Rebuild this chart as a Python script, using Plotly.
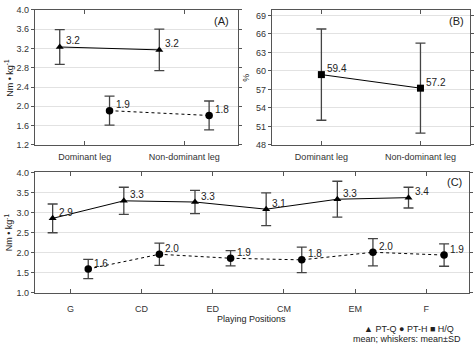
import plotly.graph_objects as go

legs = ["Dominant leg", "Non-dominant leg"]
ptq_leg = [3.23, 3.17]
ptq_leg_sd = [0.36, 0.43]
pth_leg = [1.91, 1.81]
pth_leg_sd = [0.30, 0.30]
hq_leg = [59.4, 57.2]
hq_leg_sd = [7.4, 7.3]

positions = ["G", "CD", "ED", "CM", "EM", "F"]
ptq_pos = [2.86, 3.30, 3.27, 3.09, 3.34, 3.38]
ptq_pos_sd = [0.36, 0.34, 0.29, 0.41, 0.45, 0.26]
pth_pos = [1.59, 1.96, 1.86, 1.82, 2.01, 1.94]
pth_pos_sd = [0.24, 0.28, 0.19, 0.32, 0.34, 0.28]

W, H = 474, 351
FONT = "Liberation Sans, Arial, sans-serif"
EB = dict(type="data", symmetric=True, color="#444", thickness=1.3, width=5)

def fx(px):
    return px / W

def fy(py):
    return 1 - py / H

fig = go.Figure()

def add(xs, ys, sd, sym, dash, size, xa, ya, fmt=".1f"):
    fig.add_trace(go.Scatter(
        x=xs, y=ys, mode="lines+markers",
        error_y=dict(array=sd, **EB),
        marker=dict(symbol=sym, size=size, color="black"),
        line=dict(color="black", width=1, dash=dash),
        xaxis=xa, yaxis=ya, showlegend=False, cliponaxis=False))
    for x, y in zip(xs, ys):
        fig.add_annotation(x=x, y=y, xref=xa, yref=ya, text=format(y, fmt),
                           showarrow=False, xanchor="left", yanchor="middle",
                           xshift=4, yshift=6,
                           font=dict(size=10, color="#222", family=FONT))

off = 0.25
add([i - off for i in range(len(legs))], ptq_leg, ptq_leg_sd, "triangle-up", "solid", 7, "x", "y")
add([i + off for i in range(len(legs))], pth_leg, pth_leg_sd, "circle", "dot", 7.5, "x", "y")
add(list(range(len(legs))), hq_leg, hq_leg_sd, "square", "solid", 7, "x2", "y2")
add([i - off for i in range(len(positions))], ptq_pos, ptq_pos_sd, "triangle-up", "solid", 7, "x3", "y3")
add([i + off for i in range(len(positions))], pth_pos, pth_pos_sd, "circle", "dot", 7.5, "x3", "y3")

ax_common = dict(showline=True, mirror="ticks", linecolor="#555", linewidth=1,
                 tickfont=dict(size=9, color="#333", family=FONT), zeroline=False)
xax = dict(showgrid=False, ticks="inside", ticklen=4, tickcolor="#555", ticklabelstandoff=3, **ax_common)
yax = dict(showgrid=True, gridcolor="#e2e2e2", ticks="outside", ticklen=3, tickcolor="#555", **ax_common)

fig.update_layout(
    width=W, height=H, margin=dict(l=0, r=0, t=0, b=0),
    paper_bgcolor="white", plot_bgcolor="white",
    font=dict(family=FONT, color="#222"),
    xaxis=dict(domain=[fx(35), fx(239)], range=[-0.5, 1.54], tickvals=list(range(len(legs))),
               ticktext=legs, **xax),
    yaxis=dict(domain=[fy(144), fy(5)], range=[1.2, 4.0], dtick=0.4, tickformat=".1f", **yax),
    xaxis2=dict(domain=[fx(273), fx(472)], range=[-0.5, 1.5], tickvals=list(range(len(legs))),
                ticktext=legs, anchor="y2", **xax),
    yaxis2=dict(domain=[fy(144), fy(5)], range=[48, 69.9], tickvals=list(range(48, 70, 3)),
                anchor="x2", **yax),
    xaxis3=dict(domain=[fx(35), fx(471)], range=[-0.5, 5.6], tickvals=list(range(len(positions))),
                ticktext=positions, anchor="y3", **dict(xax, ticklabelstandoff=8)),
    yaxis3=dict(domain=[fy(296), fy(172)], range=[1.0, 4.02], tickvals=[1.0, 1.5, 2.0, 2.5, 3.0, 3.5, 4.0],
                tickformat=".1f", anchor="x3", **yax),
)

ann = [
    dict(text="(A)", x=fx(222), y=fy(16)),
    dict(text="(B)", x=fx(458), y=fy(16)),
    dict(text="(C)", x=fx(456), y=fy(182)),
    dict(text="Nm • kg<sup>-1</sup>", x=fx(9), y=fy(75), textangle=-90, size=9),
    dict(text="%", x=fx(247), y=fy(75), textangle=-90, size=9),
    dict(text="Nm • kg<sup>-1</sup>", x=fx(9), y=fy(234), textangle=-90, size=9),
    dict(text="Playing Positions", x=fx(253), y=fy(323), size=9),
    dict(text="<b>▲</b> PT-Q <b>●</b> PT-H <b>■</b> H/Q", x=fx(411), y=fy(333), size=9),
    dict(text="mean; whiskers: mean±SD", x=fx(409), y=fy(344), size=9),
]
for a in ann:
    fig.add_annotation(text=a["text"], x=a["x"], y=a["y"], xref="paper", yref="paper",
                       showarrow=False, textangle=a.get("textangle", 0),
                       font=dict(size=a.get("size", 11), color="#222", family=FONT),
                       xanchor="center", yanchor="middle")

fig.write_html("out.html")
